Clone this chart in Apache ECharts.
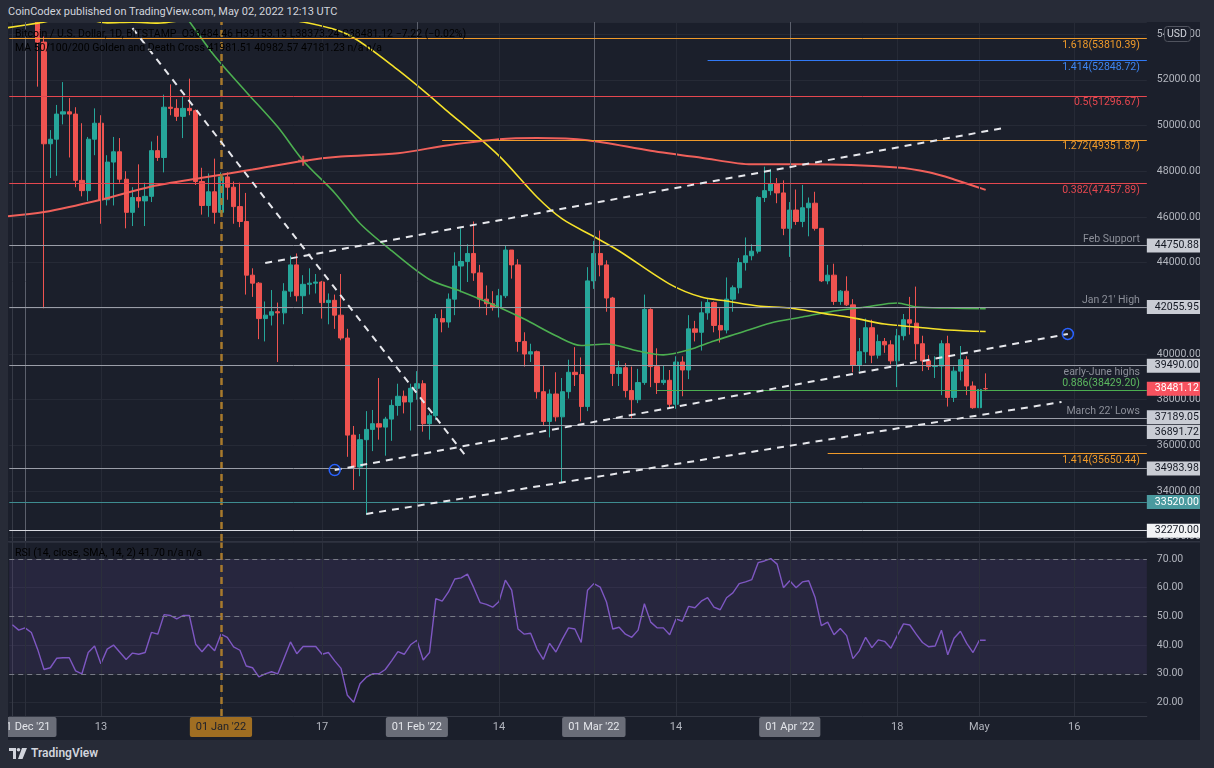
<!DOCTYPE html>
<html><head><meta charset="utf-8">
<script src="https://cdn.jsdelivr.net/npm/echarts@6/dist/echarts.min.js"></script>
<style>
html,body{margin:0;padding:0;background:#272b37;width:1214px;height:768px;overflow:hidden;font-family:Roboto,"Noto Sans",sans-serif;}
#top{position:absolute;left:8px;top:5px;font-size:11px;color:#d1d4dc;line-height:14px;white-space:nowrap;}
#chart{position:absolute;left:8px;top:22px;width:1192px;height:718px;background:#1b1f2b;}
#foot{position:absolute;left:9px;top:745px;height:16px;display:flex;align-items:center;color:#d1d4dc;font-size:12px;font-weight:600;}
#foot svg{margin-right:4px;}
</style></head>
<body>
<div id="top">CoinCodex published on TradingView.com, May 02, 2022 12:13 UTC</div>
<div id="chart"></div>
<div id="foot"><svg width="18" height="11" viewBox="0 0 18 11"><path d="M0 0H7V11H4V3H0Z" fill="#d1d4dc"/><circle cx="9.5" cy="1.8" r="1.8" fill="#d1d4dc"/><path d="M13 0H18L13.5 11H9Z" fill="#d1d4dc"/></svg>TradingView</div>
<script>
// ---------------- DATA ----------------
const firstDay = '2021-11-29';
const dayCount = 180;
// daily candles Nov 29 2021 .. May 2 2022 : [open, high, low, close]
const ohlc = [
[57300,58900,56700,57850],[57850,59200,56500,57000],
[57000,59050,56450,57200],[57200,57400,55850,56500],[56500,57600,51700,53650],[53650,53900,42000,49200],
[49200,49800,47700,49400],[49400,50900,47800,50500],[50500,51900,50050,50600],[50600,51200,48600,50500],
[50500,50800,47300,47600],[47600,50100,46900,47150],[47150,49500,46700,49400],[49400,50750,48700,50100],
[50100,50450,45700,46750],[46750,48700,46500,48400],[48400,49500,46500,48850],[48850,49450,47500,47650],
[47650,48000,45500,46200],[46200,47300,45600,46850],[46850,48300,46400,46700],[46700,47500,45600,46900],
[46900,49300,46650,48900],[48900,49550,48450,48600],[48600,51350,47950,50800],[50800,51800,50450,50750],
[50750,51150,50200,50400],[50400,51250,49450,50750],[50750,52050,50450,50650],[50650,50700,47400,47550],
[47550,48150,46100,46500],[46500,47900,46000,47100],[47100,48550,45700,46200],
[46200,47950,46150,47750],[47750,47950,46750,47300],[47300,47550,45700,46450],[46450,47500,45550,45800],
[45800,47050,42600,43450],[43450,43750,42500,43100],[43100,43150,40650,41550],[41550,42300,40550,41700],
[41700,42800,41250,41850],[41850,42250,39650,41800],[41800,43100,41300,42750],[42750,44300,42500,43900],
[43900,44400,42300,42550],[42550,43450,41750,43050],[43050,43750,42600,43100],[43100,43500,42650,43150],
[43150,43200,41550,42250],[42250,42650,41300,42350],[42350,42600,41100,41700],[41700,43500,40600,40700],
[40700,41100,35500,36450],[36450,36850,34050,35050],[35050,36500,34650,36250],[36250,37500,32950,36700],
[36700,37550,35750,36950],[36950,38950,36250,36800],[36800,37250,35550,37150],[37150,38000,36200,37750],
[37750,38700,37300,38150],[38150,38400,37400,37900],[37900,38700,36650,38500],
[38500,39250,38000,38700],[38700,38850,36600,36950],[36950,37400,36250,37300],[37300,41750,37100,41550],
[41550,41950,40950,41400],[41400,42650,41150,42400],[42400,44450,41700,43850],[43850,45500,42700,44050],
[44050,44800,43150,44400],[44400,45800,43200,43550],[43550,43900,42000,42400],[42400,43000,41700,42200],
[42200,42750,41900,42050],[42050,42850,41600,42550],[42550,44750,42450,44550],[44550,44550,43300,43900],
[43900,44150,40100,40550],[40550,40950,39450,40000],[40000,40450,39650,40100],[40100,40150,38050,38350],
[38350,39500,36850,37050],[37050,38450,36350,38250],[38250,39200,37050,37250],[37250,38950,34350,38350],
[38350,39750,38050,39200],[39200,40300,38600,39100],[39100,39850,37050,37700],[37700,43800,37500,43200],
[43200,44950,42850,44400],[44400,45400,43400,43900],[43900,44100,41850,42450],[42450,42500,38600,39150],
[39150,39700,38600,39400],[39400,39600,38100,38400],[38400,39450,37150,38000],[38000,39350,37850,38750],
[38750,42600,38650,41950],[41950,42000,38550,39450],[39450,40250,38250,38750],[38750,39500,38650,38850],
[38850,39300,37600,37800],[37800,39900,37600,39650],[39650,39900,38150,39300],[39300,41700,38900,41100],
[41100,41450,40550,40950],[40950,42300,40150,41800],[41800,42400,41500,42250],[42250,42300,40950,41250],
[41250,42000,40500,41050],[41050,43350,40900,42400],[42400,43000,41850,42900],[42900,44200,42650,44000],
[44000,45100,43650,44300],[44300,44800,44100,44500],[44500,46900,44400,46850],[46850,48200,46650,47150],
[47150,48100,46950,47450],[47450,47700,46600,47050],[47050,47600,45200,45500],
[45500,46650,44250,46300],[46300,47200,45650,45800],[45800,47400,45550,46400],[46400,46850,45150,46600],
[46600,47100,45400,45500],[45500,45500,43150,43200],[43200,43900,43050,43450],[43450,43950,42150,42300],
[42300,42800,42150,42750],[42750,43400,42100,42150],[42150,42400,39200,39500],[39500,40700,39250,40100],
[40100,41550,39600,41150],[41150,41500,39600,39950],[39950,40850,39800,40550],[40550,40700,40050,40400],
[40400,40600,39550,39700],[39700,41100,38550,40800],[40800,41750,40600,41500],[41500,42500,40850,41350],
[41350,42950,39750,40450],[40450,40800,39250,39700],[39700,39950,39300,39450],[39450,39900,38950,39470],
[39470,40600,38200,40450],[40450,40800,37700,38100],[38100,39450,37900,39250],[39250,40350,38850,39750],
[39750,39900,38200,38600],[38600,38800,37600,37650],[37650,38650,37400,38450],
[38484.46,39153.13,38373.24,38481.12]
];
// RSI(14) daily, Nov 29 .. May 2
const rsi = [
47.1,45.2,46.0,44.4,38.5,31.5,32.1,35.4,35.6,35.6,31.0,30.0,37.4,39.7,33.5,38.6,40.0,37.5,35.0,37.2,36.8,37.4,44.4,43.8,50.6,50.3,49.1,50.3,50.3,40.3,37.7,40.3,38.0,
43.8,42.7,39.4,38.2,32.7,32.1,28.9,30.0,30.7,30.0,35.5,41.1,37.0,39.5,39.5,39.5,36.8,37.4,34.5,31.9,22.5,20.1,26.5,28.8,30.0,30.0,31.5,34.5,37.7,36.8,40.1,
41.7,34.8,37.4,56.2,55.3,58.5,63.0,63.4,64.7,60.0,54.8,54.2,53.2,55.2,62.6,59.1,45.6,43.8,44.1,38.6,35.0,40.6,37.6,42.0,46.0,45.6,40.9,59.1,
61.4,60.2,55.0,45.6,46.2,43.8,42.7,45.2,54.4,48.0,46.0,46.0,43.6,49.1,48.3,53.5,53.0,55.3,56.5,53.2,52.3,56.5,58.2,61.4,62.0,62.8,68.7,69.3,70.1,68.2,60.0,
62.4,60.0,62.0,62.4,56.7,46.8,48.0,43.6,45.8,43.3,35.3,38.0,42.7,39.1,41.8,41.3,38.9,43.3,47.4,47.0,43.8,40.9,39.4,39.7,45.2,36.6,42.4,44.8,40.6,37.4,
41.7,41.7
];
// moving averages: [date, value]
const ma50 = [['2021-12-22',56400],['2021-12-27',54550],['2021-12-31',53040],['2022-01-05',51470],['2022-01-10',49930],['2022-01-14',48460],['2022-01-19',47050],['2022-01-23',45710],['2022-01-28',44520],['2022-02-03',43260],['2022-02-08',42740],['2022-02-13',42170],['2022-02-18',41530],['2022-02-23',40800],['2022-02-27',40370],['2022-03-03',40440],['2022-03-08',40130],['2022-03-12',39960],['2022-03-16',40180],['2022-03-20',40570],['2022-03-24',40920],['2022-03-29',41360],['2022-04-03',41620],['2022-04-08',41880],['2022-04-13',42060],['2022-04-18',42230],['2022-04-21',42060],['2022-04-26',42010],['2022-05-02',41981.51]];
const ma100 = [['2021-11-28',54270],['2021-12-03',54480],['2021-12-09',54750],['2021-12-14',54490],['2021-12-18',54520],['2021-12-22',54480],['2021-12-29',54700],['2022-01-08',54700],['2022-01-14',54530],['2022-01-21',53990],['2022-01-29',52430],['2022-02-06',50590],['2022-02-14',48670],['2022-02-20',46870],['2022-02-24',45910],['2022-03-01',45140],['2022-03-05',44510],['2022-03-13',43060],['2022-03-18',42490],['2022-03-22',42320],['2022-03-27',42100],['2022-04-01',42010],['2022-04-06',41790],['2022-04-11',41580],['2022-04-16',41310],['2022-04-21',41180],['2022-04-26',41050],['2022-05-02',40982.57]];
const ma200 = [['2021-11-28',46020],['2021-12-04',46210],['2021-12-13',46750],['2021-12-21',47330],['2021-12-29',47710],['2022-01-06',48070],['2022-01-14',48450],['2022-01-20',48640],['2022-01-29',48790],['2022-02-06',49140],['2022-02-14',49400],['2022-02-20',49450],['2022-02-28',49360],['2022-03-10',48900],['2022-03-18',48590],['2022-03-26',48300],['2022-04-04',48300],['2022-04-18',48160],['2022-04-23',47950],['2022-04-27',47640],['2022-05-02',47181.23]];
// hand-drawn trend lines: [date, price] end points
const trendUpper = [['2022-01-08',43980],['2022-05-05',49900]];
const trendMiddle = [['2022-01-19',34920],['2022-05-15',40875]];
const trendLower = [['2022-01-24',33000],['2022-05-14',37900]];
const trendDown = [['2021-12-18',54260],['2022-02-09',35440]];
const deathCross = [['2022-01-14',48460]];
// horizontal levels
const levelValues = [53810.39,52848.72,51296.67,49351.87,47457.89,44750.88,42055.95,39490.00,38429.20,37189.05,36891.72,35650.44,34983.98,33520.00,32270.00];
const levelTexts = ['1.618(53810.39)','1.414(52848.72)','0.5(51296.67)','1.272(49351.87)','0.382(47457.89)','Feb Support',"Jan 21' High",'early-June highs','0.886(38429.20)',"March 22' Lows",'','1.414(35650.44)','','',''];
const levelStarts = [null,'2022-03-19',null,'2022-02-05',null,null,null,null,'2022-03-11','2022-03-04','2022-02-01','2022-04-07',null,null,null];
const priceTags = [44750.88,42055.95,39490.00,38481.12,37189.05,36891.72,34983.98,33520.00,32270.00];
// time axis
const tickDates = ['2021-12-01','2021-12-13','2022-01-01','2022-01-17','2022-02-01','2022-02-14','2022-03-01','2022-03-14','2022-04-01','2022-04-18','2022-05-01','2022-05-16'];
const tickLabels = ["01 Dec '21",'13',"01 Jan '22",'17',"01 Feb '22",'14',"01 Mar '22",'14',"01 Apr '22",'18','May','16'];
const monthLines = ['2021-12-01','2022-02-01','2022-03-01','2022-04-01'];
const markedDay = '2022-01-01';

// ---------------- BUILD ----------------
const t0 = Date.parse(firstDay);
const categories = [];
for (let i = 0; i < dayCount; i++) categories.push(new Date(t0 + i * 86400000).toISOString().slice(0, 10));
const di = s => Math.round((Date.parse(s) - t0) / 86400000);
const pts = arr => arr.map(p => [di(p[0]), p[1]]);
const candleData = ohlc.map(r => [r[0], r[3], r[2], r[1]]);

const FONT = 'Roboto, "Noto Sans", sans-serif';
const levelColor = ['#ef9a2a','#3179f5','#e5474f','#ef9a2a','#e5474f','#9b9ea8','#9b9ea8','#9b9ea8','#4caf50','#9b9ea8','#9b9ea8','#ef9a2a','#9b9ea8','#3e8c90','#d8dae0'];
const levelTextColor = ['#ef9a2a','#3d85f0','#e5474f','#ef9a2a','#e5474f','#8c8f99','#8c8f99','#8c8f99','#5cb85f','#8c8f99','','#ef9a2a','','',''];
const levelTextTop = [false,false,false,false,false,true,true,false,true,true,false,false,false,false,false];

const levelLines = levelValues.map((v, i) => {
  const ls = { color: levelColor[i], width: 1, type: 'solid' };
  const lab = levelTexts[i] ? { show: true, position: levelTextTop[i] ? 'insideEndTop' : 'insideEndBottom', formatter: levelTexts[i], color: levelTextColor[i], fontSize: 10.5, fontFamily: FONT, distance: [7, 1] } : { show: false };
  if (levelStarts[i]) return [{ coord: [di(levelStarts[i]), v], lineStyle: ls, label: lab }, { coord: [dayCount - 0.5, v] }];
  return { yAxis: v, lineStyle: ls, label: lab };
});
const tagStyle = v => {
  if (v === 38481.12) return { bg: '#f7525f', fg: '#ffffff', dy: 0 };
  if (v === 33520.00) return { bg: '#4a9a9f', fg: '#ffffff', dy: 0 };
  if (v === 32270.00) return { bg: '#f2f3f5', fg: '#131722', dy: 0 };
  if (v === 37189.05) return { bg: '#c9ccd4', fg: '#131722', dy: -1 };
  if (v === 36891.72) return { bg: '#c9ccd4', fg: '#131722', dy: 7 };
  return { bg: '#c9ccd4', fg: '#131722', dy: 0 };
};
const tagLines = priceTags.map(v => {
  const s = tagStyle(v);
  return { yAxis: v, lineStyle: { color: 'rgba(0,0,0,0)', width: 0.1 }, label: { show: true, position: 'end', formatter: v.toFixed(2), backgroundColor: s.bg, color: s.fg, fontSize: 10.5, fontFamily: FONT, padding: [2, 5, 1, 8], distance: 0, offset: [0, s.dy] } };
});

const vLinesMain = tickDates.map(d => ({ xAxis: di(d), lineStyle: { color: monthLines.includes(d) ? '#5c606c' : '#262a36', width: 1, type: 'solid' } }));
vLinesMain.push({ xAxis: di(markedDay), lineStyle: { color: '#a87a2c', width: 2.5, type: [7, 5] } });
const vLinesRsi = tickDates.map(d => ({ xAxis: di(d), lineStyle: { color: '#2b2f3b', width: 1, type: 'solid' } }));
vLinesRsi.push({ xAxis: di(markedDay), lineStyle: { color: '#a87a2c', width: 2.5, type: [7, 5] } });

const dash = (data, extra) => Object.assign({
  type: 'line', xAxisIndex: 1, yAxisIndex: 0, data: pts(data), symbol: 'none', z: 6, silent: true, animation: false,
  lineStyle: { color: '#e6e7ec', width: 2, type: [7, 6] }
}, extra || {});

const option = {
  animation: false,
  backgroundColor: '#1b1f2b',
  textStyle: { fontFamily: FONT },
  grid: [
    { left: 1.24, top: 0, width: 1137.6, height: 519, outerBoundsMode: 'none', containLabel: false },
    { left: 1.24, top: 520, width: 1137.6, height: 174, outerBoundsMode: 'none', containLabel: false }
  ],
  xAxis: [
    { type: 'category', gridIndex: 0, data: categories, boundaryGap: true, axisLine: { show: false }, axisTick: { show: false }, axisLabel: { show: false }, splitLine: { show: false } },
    { type: 'value', gridIndex: 0, min: -0.5, max: dayCount - 0.5, show: false, splitLine: { show: false } },
    { type: 'category', gridIndex: 1, data: categories, boundaryGap: true,
      axisLine: { show: true, lineStyle: { color: '#363a46', width: 1 } }, axisTick: { show: false }, splitLine: { show: false },
      axisLabel: { show: true, interval: (i, v) => tickDates.includes(v), margin: 1, fontSize: 11, fontFamily: FONT, color: '#b2b5be',
        formatter: v => { const k = tickDates.indexOf(v); if (k < 0) return ''; const t = tickLabels[k];
          if (v === markedDay) return '{jan|' + t + '}'; if (monthLines.includes(v)) return '{box|' + t + '}'; return '{pl|' + t + '}'; },
        rich: {
          box: { backgroundColor: '#6a6d78', color: '#e3e5ea', padding: [5, 6, 4, 6], borderRadius: 2, fontSize: 11, fontFamily: FONT },
          jan: { backgroundColor: '#a06e22', color: '#1b1f2b', padding: [5, 6, 4, 6], borderRadius: 2, fontSize: 11, fontFamily: FONT },
          pl: { color: '#b2b5be', padding: [5, 6, 4, 6], fontSize: 11, fontFamily: FONT }
        } } },
    { type: 'value', gridIndex: 1, min: -0.5, max: dayCount - 0.5, show: false, splitLine: { show: false } }
  ],
  yAxis: [
    { type: 'value', gridIndex: 0, position: 'right', min: 31816, max: 54530, splitNumber: 11, minInterval: 2000, maxInterval: 2000,
      axisLine: { show: true, lineStyle: { color: '#363a46' } }, axisTick: { show: false },
      axisLabel: { color: '#b2b5be', fontSize: 10.5, fontFamily: FONT, margin: 10, showMinLabel: false, showMaxLabel: false, formatter: v => v.toFixed(2) },
      splitLine: { show: true, lineStyle: { color: '#262a36', width: 1 } } },
    { type: 'value', gridIndex: 1, position: 'right', min: 15.3, max: 75.9, splitNumber: 6, minInterval: 10, maxInterval: 10,
      axisLine: { show: true, lineStyle: { color: '#363a46' } }, axisTick: { show: false },
      axisLabel: { color: '#b2b5be', fontSize: 10.5, fontFamily: FONT, margin: 10, showMinLabel: false, showMaxLabel: false, formatter: v => v.toFixed(2) },
      splitLine: { show: true, lineStyle: { color: '#262a36', width: 1 } } }
  ],
  series: [
    { type: 'line', xAxisIndex: 1, yAxisIndex: 0, data: [[-10, 40000]], symbol: 'none', z: 1, silent: true,
      markLine: { silent: true, symbol: ['none', 'none'], label: { show: false }, animation: false, data: vLinesMain } },
    { type: 'candlestick', xAxisIndex: 0, yAxisIndex: 0, data: candleData, barWidth: 4.8, z: 3, clip: true,
      itemStyle: { color: '#26a69a', color0: '#ef5350', borderColor: '#26a69a', borderColor0: '#ef5350', borderWidth: 1 } },
    { type: 'line', name: 'MA50', xAxisIndex: 1, yAxisIndex: 0, data: pts(ma50), smooth: 0.3, symbol: 'none', z: 4, clip: true, lineStyle: { color: '#4caf50', width: 1.6 } },
    { type: 'line', name: 'MA100', xAxisIndex: 1, yAxisIndex: 0, data: pts(ma100), smooth: 0.3, symbol: 'none', z: 4, clip: true, lineStyle: { color: '#f5e12a', width: 1.6 } },
    { type: 'line', name: 'MA200', xAxisIndex: 1, yAxisIndex: 0, data: pts(ma200), smooth: 0.3, symbol: 'none', z: 4, clip: true, lineStyle: { color: '#f0605a', width: 2 } },
    dash(trendUpper),
    dash(trendMiddle, { symbol: 'circle', symbolSize: 11, showSymbol: true, itemStyle: { color: 'rgba(0,0,0,0)', borderColor: '#2962ff', borderWidth: 1.5 } }),
    dash(trendLower),
    dash(trendDown),
    { type: 'scatter', xAxisIndex: 1, yAxisIndex: 0, data: pts(deathCross), z: 7, silent: true,
      symbol: 'path://M4,0H6V4H10V6H6V10H4V6H0V4H4Z', symbolSize: 10, itemStyle: { color: '#f0605a' } },
    { type: 'line', xAxisIndex: 1, yAxisIndex: 0, data: [[-10, 40000]], symbol: 'none', z: 8, silent: true,
      markLine: { silent: true, symbol: ['none', 'none'], animation: false, data: levelLines } },
    { type: 'line', xAxisIndex: 1, yAxisIndex: 0, data: [[-10, 40000]], symbol: 'none', z: 9, silent: true, clip: false,
      markLine: { silent: true, symbol: ['none', 'none'], animation: false, data: tagLines } },
    { type: 'line', xAxisIndex: 3, yAxisIndex: 1, data: [[-10, 50]], symbol: 'none', z: 1, silent: true,
      markArea: { silent: true, itemStyle: { color: 'rgba(126,87,194,0.13)' }, data: [[{ yAxis: 30 }, { yAxis: 70 }]] },
      markLine: { silent: true, symbol: ['none', 'none'], label: { show: false }, animation: false,
        data: vLinesRsi.concat([70, 50, 30].map(v => ({ yAxis: v, lineStyle: { color: '#787b86', width: 1, type: [5, 4] } }))) } },
    { type: 'line', xAxisIndex: 2, yAxisIndex: 1, data: rsi, symbol: 'none', z: 4, lineStyle: { color: '#7e57c2', width: 1.4 } }
  ],
  graphic: [
    { type: 'text', left: 7, top: 7, z: 100, style: { fontFamily: FONT, fontSize: 10.5,
      text: '{g|Bitcoin / U.S. Dollar, 1D, BITSTAMP}  {g|O}{r|38484.46} {g|H}{r|39153.13} {g|L}{r|38373.24} {g|C}{r|38481.12} {r|−7.22 (−0.02%)}',
      rich: { g: { color: '#b2b5be', fontSize: 10.5, fontFamily: FONT }, r: { color: '#f7525f', fontSize: 10.5, fontFamily: FONT } } } },
    { type: 'text', left: 7, top: 21, z: 100, style: { fontFamily: FONT, fontSize: 10.5,
      text: '{g|MA 50/100/200 Golden and Death Cross} {gr|41981.51} {y|40982.57} {rd|47181.23} {g|n/a n/a}',
      rich: { g: { color: '#b2b5be', fontSize: 10.5, fontFamily: FONT }, gr: { color: '#4caf50', fontSize: 10.5, fontFamily: FONT }, y: { color: '#f5e12a', fontSize: 10.5, fontFamily: FONT }, rd: { color: '#f0605a', fontSize: 10.5, fontFamily: FONT } } } },
    { type: 'text', left: 7, top: 526, z: 100, style: { fontFamily: FONT, fontSize: 10.5,
      text: '{g|RSI (14, close, SMA, 14, 2)} {p|41.70} {g|n/a n/a}',
      rich: { g: { color: '#b2b5be', fontSize: 10.5, fontFamily: FONT }, p: { color: '#9575cd', fontSize: 10.5, fontFamily: FONT } } } },
    { type: 'rect', left: 1156, top: 4, z: 100, shape: { width: 26, height: 15, r: 3 }, style: { fill: '#1b1f2b', stroke: '#50535e', lineWidth: 1 } },
    { type: 'text', left: 1159, top: 6.5, z: 101, style: { text: 'USD', fill: '#d1d4dc', fontSize: 10.5, fontFamily: FONT } },
    { type: 'rect', left: 0, top: 519, z: 50, shape: { width: 1192, height: 1.5 }, style: { fill: '#2f3340' } }
  ]
};
const chart = echarts.init(document.getElementById('chart'), null, { renderer: 'canvas' });
chart.setOption(option);
</script>
</body></html>
